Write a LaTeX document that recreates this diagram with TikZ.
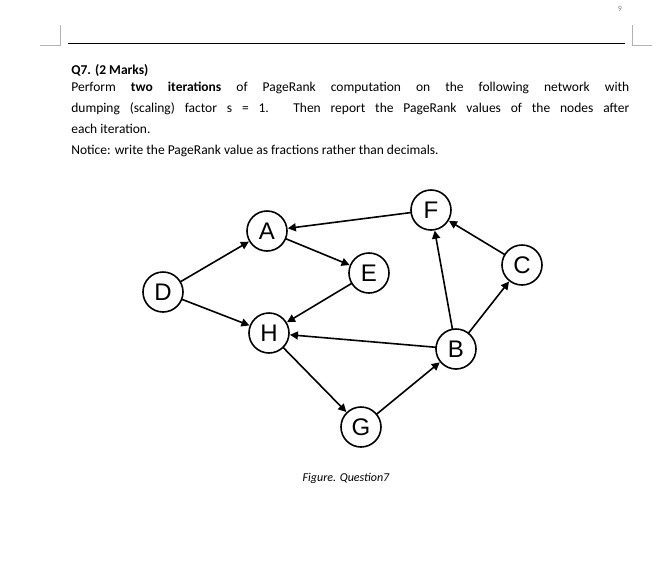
\documentclass[tikz,border=0pt]{standalone}
\usepackage{fontspec}
\setmainfont{Carlito}
\newfontfamily\letterfont{Liberation Sans}
\usetikzlibrary{arrows.meta}
\begin{document}
\begin{tikzpicture}[x=1pt, y=-1pt,
    every node/.style={outer sep=0pt},
    pnode/.style={circle, draw, line width=1.6pt, minimum size=40pt, inner sep=0pt, font=\letterfont\fontsize{24}{24}\selectfont},
    link/.style={line width=1.6pt, -{Triangle[length=8pt, width=8pt]}, shorten >=1pt}]
    \useasboundingbox (0,0) rectangle (657,582);
    % Page marks
    \draw[gray!60, line width=0.6pt] (40,45) -- (60,45) -- (60,25);
    \draw[gray!60, line width=0.6pt] (652,45) -- (632,45) -- (632,25);
    \draw[line width=0.6pt] (68,43) -- (625,43);
    \node[gray, font=\fontsize{8}{8}\selectfont] (pg) at (620,9) {9};

    % Question text
    \node[anchor=north west, font=\fontsize{13.5}{14}\selectfont\bfseries] (q) at (68,61) {Q7. (2 Marks)};
    \node[anchor=north west, text width=558pt, align=justify, font=\fontsize{13.5}{21}\selectfont] (body) at (68,79)
        {Perform \textbf{two iterations} of PageRank computation on the following network with\linebreak
        dumping (scaling) factor s = 1. Then report the PageRank values of the nodes after\linebreak
        each iteration.\\
        Notice: write the PageRank value as fractions rather than decimals.};

    % Graph
    \node[pnode] (F) at (431,210) {F};
    \node[pnode] (A) at (267,231) {A};
    \node[pnode] (E) at (369,273) {E};
    \node[pnode] (C) at (522,265) {C};
    \node[pnode] (D) at (163,292) {D};
    \node[pnode] (H) at (269,333) {H};
    \node[pnode] (B) at (456,349) {B};
    \node[pnode] (G) at (361,427) {G};

    \draw[link] (D) -- (A);
    \draw[link] (A) -- (E);
    \draw[link] (F) -- (A);
    \draw[link] (E) -- (H);
    \draw[link] (D) -- (H);
    \draw[link] (B) -- (H);
    \draw[link] (H) -- (G);
    \draw[link] (G) -- (B);
    \draw[link] (B) -- (F);
    \draw[link] (B) -- (C);
    \draw[link] (C) -- (F);

    \node[font=\fontsize{12}{12}\selectfont\itshape] (cap) at (346,478) {Figure. Question7};
\end{tikzpicture}
\end{document}
